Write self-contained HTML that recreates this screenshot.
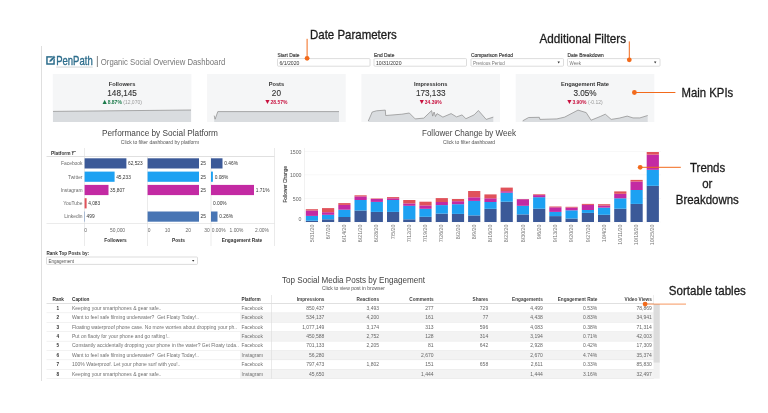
<!DOCTYPE html>
<html><head><meta charset="utf-8"><title>Organic Social Overview Dashboard</title>
<style>
html,body{margin:0;padding:0;background:#fff;width:768px;height:413px;overflow:hidden;font-family:"Liberation Sans",sans-serif}
#dash{filter:blur(0.55px)}
#ann{filter:blur(0.3px)}
</style></head><body>
<svg width="768" height="413" viewBox="0 0 768 413" font-family="'Liberation Sans', sans-serif" style="display:block">
<g id="dash">
<rect x="41" y="46" width="0.8" height="335" fill="#d8d8d8"/>
<g transform="translate(46,55)">
<rect x="0.95" y="1.9" width="7.1" height="7.1" fill="none" stroke="#2d6d8c" stroke-width="1.5"/>
<path d="M3.0 7.3 L3.5 5.2 L7.9 0.6 L9.5 2.2 L5.1 6.8 Z" fill="#2d6d8c" stroke="#fff" stroke-width="0.5"/>
<text x="10.2" y="9.5" font-size="12.4" fill="#2d6d8c" text-anchor="start" font-weight="normal" textLength="36.5" lengthAdjust="spacingAndGlyphs" stroke="#2d6d8c" stroke-width="0.35">PenPath</text>
<rect x="10.2" y="11.6" width="36.5" height="0.9" fill="#9aa3aa" opacity="0.5"/>
</g>
<rect x="96.9" y="56" width="0.8" height="11" fill="#666"/>
<text x="100.8" y="65.3" font-size="9" fill="#777" text-anchor="start" font-weight="normal" textLength="124.5" lengthAdjust="spacingAndGlyphs">Organic Social Overview Dashboard</text>
<text x="277.5" y="56.6" font-size="4.9" fill="#3a3a3a" text-anchor="start" font-weight="normal" stroke="#3a3a3a" stroke-width="0.16">Start Date</text>
<rect x="277.5" y="58.6" width="92.5" height="7.6" fill="#fff" stroke="#cfcfcf" stroke-width="0.7" rx="0.8"/>
<text x="279.5" y="64.5" font-size="5.1" fill="#333" text-anchor="start" font-weight="normal" >6/1/2020</text>
<text x="374" y="56.6" font-size="4.9" fill="#3a3a3a" text-anchor="start" font-weight="normal" stroke="#3a3a3a" stroke-width="0.16">End Date</text>
<rect x="374" y="58.6" width="92.5" height="7.6" fill="#fff" stroke="#cfcfcf" stroke-width="0.7" rx="0.8"/>
<text x="376" y="64.5" font-size="5.1" fill="#333" text-anchor="start" font-weight="normal" >10/31/2020</text>
<text x="471" y="56.6" font-size="4.9" fill="#3a3a3a" text-anchor="start" font-weight="normal" stroke="#3a3a3a" stroke-width="0.16">Comparison Period</text>
<rect x="471" y="58.6" width="92.5" height="7.6" fill="#fff" stroke="#cfcfcf" stroke-width="0.7" rx="0.8"/>
<text x="473" y="64.5" font-size="4.5" fill="#777" text-anchor="start" font-weight="normal" >Previous Period</text>
<path d="M557.5 61.6 l2.4 0 l-1.2 1.8 z" fill="#333"/>
<text x="567.5" y="56.6" font-size="4.9" fill="#3a3a3a" text-anchor="start" font-weight="normal" stroke="#3a3a3a" stroke-width="0.16">Date Breakdown</text>
<rect x="567.5" y="58.6" width="92.5" height="7.6" fill="#fff" stroke="#cfcfcf" stroke-width="0.7" rx="0.8"/>
<text x="569.5" y="64.5" font-size="4.5" fill="#777" text-anchor="start" font-weight="normal" >Week</text>
<path d="M654.0 61.6 l2.4 0 l-1.2 1.8 z" fill="#333"/>
<rect x="52.8" y="74" width="138.6" height="48" fill="#f5f6f7"/>
<rect x="207.1" y="74" width="138.6" height="48" fill="#f5f6f7"/>
<rect x="361.4" y="74" width="138.6" height="48" fill="#f5f6f7"/>
<rect x="515.7" y="74" width="138.6" height="48" fill="#f5f6f7"/>
<path d="M53.0 111.4 L191.0 110.0 L191.0 122 L53.0 122 Z" fill="#d9dcdf"/>
<path d="M53.0 111.4 L191.0 110.0" fill="none" stroke="#8a8a8a" stroke-width="0.7" stroke-linejoin="round"/>
<path d="M214.2 115.6 L215.1 119.2 L217.8 111.6 L339.0 111.6 L339.0 122 L214.2 122 Z" fill="#d9dcdf"/>
<path d="M214.2 115.6 L215.1 119.2 L217.8 111.6 L339.0 111.6" fill="none" stroke="#8a8a8a" stroke-width="0.7" stroke-linejoin="round"/>
<path d="M368.3 121.0 L372.2 112.0 L376.5 110.8 L385.3 110.1 L385.7 115.5 L401.9 114.2 L409.3 113.0 L415.2 118.9 L423.8 118.1 L431.6 110.6 L432.7 116.1 L434.1 112.0 L435.5 116.5 L437.0 113.6 L442.9 117.1 L451.1 113.6 L456.6 116.9 L462.0 114.9 L465.9 118.7 L474.1 114.9 L478.4 110.5 L486.2 119.4 L493.3 117.1 L493.3 122 L368.3 122 Z" fill="#d9dcdf"/>
<path d="M368.3 121.0 L372.2 112.0 L376.5 110.8 L385.3 110.1 L385.7 115.5 L401.9 114.2 L409.3 113.0 L415.2 118.9 L423.8 118.1 L431.6 110.6 L432.7 116.1 L434.1 112.0 L435.5 116.5 L437.0 113.6 L442.9 117.1 L451.1 113.6 L456.6 116.9 L462.0 114.9 L465.9 118.7 L474.1 114.9 L478.4 110.5 L486.2 119.4 L493.3 117.1" fill="none" stroke="#8a8a8a" stroke-width="0.7" stroke-linejoin="round"/>
<path d="M522.7 120.8 L528.6 117.5 L539.3 117.3 L539.9 119.4 L556.9 118.9 L564.7 117.1 L578.0 110.1 L586.2 112.6 L591.1 120.2 L600.2 116.5 L605.3 114.2 L611.2 119.4 L619.4 118.1 L627.2 116.1 L633.0 117.9 L639.9 117.9 L647.7 115.5 L647.7 122 L522.7 122 Z" fill="#d9dcdf"/>
<path d="M522.7 120.8 L528.6 117.5 L539.3 117.3 L539.9 119.4 L556.9 118.9 L564.7 117.1 L578.0 110.1 L586.2 112.6 L591.1 120.2 L600.2 116.5 L605.3 114.2 L611.2 119.4 L619.4 118.1 L627.2 116.1 L633.0 117.9 L639.9 117.9 L647.7 115.5" fill="none" stroke="#8a8a8a" stroke-width="0.7" stroke-linejoin="round"/>
<text x="122.1" y="85.6" font-size="5.7" fill="#333" text-anchor="middle" font-weight="bold" >Followers</text>
<text x="122.1" y="96" font-size="8.2" fill="#333" text-anchor="middle" font-weight="normal" stroke="#333" stroke-width="0.12">148,145</text>
<text x="276.4" y="85.6" font-size="5.7" fill="#333" text-anchor="middle" font-weight="bold" >Posts</text>
<text x="276.4" y="96" font-size="8.2" fill="#333" text-anchor="middle" font-weight="normal" stroke="#333" stroke-width="0.12">20</text>
<text x="430.7" y="85.6" font-size="5.7" fill="#333" text-anchor="middle" font-weight="bold" >Impressions</text>
<text x="430.7" y="96" font-size="8.2" fill="#333" text-anchor="middle" font-weight="normal" stroke="#333" stroke-width="0.12">173,133</text>
<text x="585.0" y="85.6" font-size="5.7" fill="#333" text-anchor="middle" font-weight="bold" >Engagement Rate</text>
<text x="585.0" y="96" font-size="8.2" fill="#333" text-anchor="middle" font-weight="normal" stroke="#333" stroke-width="0.12">3.05%</text>
<path d="M102.56 103.9 L106.76 103.9 L104.66 99.7 Z" fill="#1b7a4a"/>
<text x="107.66" y="103.9" font-size="5.0" fill="#1b7a4a" text-anchor="start" font-weight="normal" ><tspan fill="#1b7a4a" font-weight="bold">8.87%</tspan><tspan fill="#999"> (12,070)</tspan></text>
<path d="M265.37 99.9 L269.57 99.9 L267.47 104.1 Z" fill="#c8103e"/>
<text x="270.47" y="103.9" font-size="5.0" fill="#c8103e" text-anchor="start" font-weight="normal" ><tspan fill="#c8103e" font-weight="bold">28.57%</tspan></text>
<path d="M419.67 99.9 L423.87 99.9 L421.77 104.1 Z" fill="#c8103e"/>
<text x="424.77" y="103.9" font-size="5.0" fill="#c8103e" text-anchor="start" font-weight="normal" ><tspan fill="#c8103e" font-weight="bold">34.39%</tspan></text>
<path d="M567.30 99.9 L571.50 99.9 L569.40 104.1 Z" fill="#c8103e"/>
<text x="572.4" y="103.9" font-size="5.0" fill="#c8103e" text-anchor="start" font-weight="normal" ><tspan fill="#c8103e" font-weight="bold">3.90%</tspan><tspan fill="#999"> (-0.12)</tspan></text>
<text x="160" y="135.6" font-size="8.6" fill="#444" text-anchor="middle" font-weight="normal" textLength="116" lengthAdjust="spacingAndGlyphs">Performance by Social Platform</text>
<text x="160" y="143.7" font-size="5.0" fill="#555" text-anchor="middle" font-weight="normal" >Click to filter dashboard by platform</text>
<text x="51" y="154.6" font-size="4.8" fill="#333" text-anchor="start" font-weight="bold" >Platform</text>
<path d="M71.5 151.2 h4.4 v0.7 h-1.9 l-0.9 1.2 v1.8 h-0.8 v-1.8 l-0.8 -1.9 z" fill="#555"/>
<rect x="46.5" y="156.3" width="228" height="0.6" fill="#ccc"/>
<rect x="46.5" y="223.3" width="228" height="0.6" fill="#ddd"/>
<rect x="84.3" y="148" width="0.6" height="98" fill="#ddd"/>
<rect x="147.3" y="156.5" width="0.6" height="89.5" fill="#ddd"/>
<rect x="210.7" y="156.5" width="0.6" height="89.5" fill="#ddd"/>
<rect x="274" y="148" width="0.6" height="98" fill="#ddd"/>
<text x="82.5" y="165.20000000000002" font-size="4.9" fill="#6a6a6a" text-anchor="end" font-weight="normal" >Facebook</text>
<rect x="84.6" y="158.3" width="41.8" height="10.2" fill="#3b5998"/>
<text x="128.0" y="165.20000000000002" font-size="4.8" fill="#333" text-anchor="start" font-weight="normal" >62,523</text>
<rect x="147.6" y="158.3" width="51.4" height="10.2" fill="#3b5998"/>
<text x="200.6" y="165.20000000000002" font-size="4.8" fill="#333" text-anchor="start" font-weight="normal" >25</text>
<rect x="211" y="158.3" width="11.5" height="10.2" fill="#3b5998"/>
<text x="224.3" y="165.20000000000002" font-size="4.8" fill="#333" text-anchor="start" font-weight="normal" >0.46%</text>
<text x="82.5" y="178.50000000000003" font-size="4.9" fill="#6a6a6a" text-anchor="end" font-weight="normal" >Twitter</text>
<rect x="84.6" y="171.6" width="30.0" height="10.2" fill="#1da1f2"/>
<text x="116.19999999999999" y="178.50000000000003" font-size="4.8" fill="#333" text-anchor="start" font-weight="normal" >45,233</text>
<rect x="147.6" y="171.6" width="51.4" height="10.2" fill="#1da1f2"/>
<text x="200.6" y="178.50000000000003" font-size="4.8" fill="#333" text-anchor="start" font-weight="normal" >25</text>
<rect x="211" y="171.6" width="1.9" height="10.2" fill="#1da1f2"/>
<text x="214.70000000000002" y="178.50000000000003" font-size="4.8" fill="#333" text-anchor="start" font-weight="normal" >0.08%</text>
<text x="82.5" y="191.8" font-size="4.9" fill="#6a6a6a" text-anchor="end" font-weight="normal" >Instagram</text>
<rect x="84.6" y="184.9" width="23.9" height="10.2" fill="#c32aa3"/>
<text x="110.1" y="191.8" font-size="4.8" fill="#333" text-anchor="start" font-weight="normal" >35,807</text>
<rect x="147.6" y="184.9" width="51.4" height="10.2" fill="#c32aa3"/>
<text x="200.6" y="191.8" font-size="4.8" fill="#333" text-anchor="start" font-weight="normal" >25</text>
<rect x="211" y="184.9" width="43.0" height="10.2" fill="#c32aa3"/>
<text x="255.8" y="191.8" font-size="4.8" fill="#333" text-anchor="start" font-weight="normal" >1.71%</text>
<text x="82.5" y="205.10000000000002" font-size="4.9" fill="#6a6a6a" text-anchor="end" font-weight="normal" >YouTube</text>
<rect x="84.6" y="198.2" width="2.0" height="10.2" fill="#e0525a"/>
<text x="88.19999999999999" y="205.10000000000002" font-size="4.8" fill="#333" text-anchor="start" font-weight="normal" >4,083</text>
<text x="213.0" y="205.10000000000002" font-size="4.8" fill="#333" text-anchor="start" font-weight="normal" >0.00%</text>
<text x="82.5" y="218.4" font-size="4.9" fill="#6a6a6a" text-anchor="end" font-weight="normal" >Linkedin</text>
<rect x="84.6" y="211.5" width="0.4" height="10.2" fill="#4875b4"/>
<text x="86.6" y="218.4" font-size="4.8" fill="#333" text-anchor="start" font-weight="normal" >499</text>
<rect x="147.6" y="211.5" width="51.4" height="10.2" fill="#4875b4"/>
<text x="200.6" y="218.4" font-size="4.8" fill="#333" text-anchor="start" font-weight="normal" >25</text>
<rect x="211" y="211.5" width="6.5" height="10.2" fill="#4875b4"/>
<text x="219.3" y="218.4" font-size="4.8" fill="#333" text-anchor="start" font-weight="normal" >0.26%</text>
<text x="85.5" y="231.5" font-size="4.9" fill="#666" text-anchor="middle" font-weight="normal" >0</text>
<text x="117.6" y="231.5" font-size="4.9" fill="#666" text-anchor="middle" font-weight="normal" >50,000</text>
<text x="149" y="231.5" font-size="4.9" fill="#666" text-anchor="middle" font-weight="normal" >0</text>
<text x="167.6" y="231.5" font-size="4.9" fill="#666" text-anchor="middle" font-weight="normal" >10</text>
<text x="188.3" y="231.5" font-size="4.9" fill="#666" text-anchor="middle" font-weight="normal" >20</text>
<text x="207.1" y="231.5" font-size="4.9" fill="#666" text-anchor="middle" font-weight="normal" >30</text>
<text x="218.6" y="231.5" font-size="4.9" fill="#666" text-anchor="middle" font-weight="normal" >0.00%</text>
<text x="236.5" y="231.5" font-size="4.9" fill="#666" text-anchor="middle" font-weight="normal" >1.00%</text>
<text x="262" y="231.5" font-size="4.9" fill="#666" text-anchor="middle" font-weight="normal" >2.00%</text>
<text x="115.5" y="241.8" font-size="4.8" fill="#333" text-anchor="middle" font-weight="bold" >Followers</text>
<text x="178.5" y="241.8" font-size="4.8" fill="#333" text-anchor="middle" font-weight="bold" >Posts</text>
<text x="242" y="241.8" font-size="4.8" fill="#333" text-anchor="middle" font-weight="bold" >Engagement Rate</text>
<text x="46.5" y="254.6" font-size="4.6" fill="#333" text-anchor="start" font-weight="bold" >Rank Top Posts by:</text>
<rect x="46.5" y="257" width="151" height="7.4" fill="#fff" stroke="#cfcfcf" stroke-width="0.7" rx="0.8"/>
<text x="48.5" y="262.6" font-size="4.5" fill="#555" text-anchor="start" font-weight="normal" >Engagement</text>
<path d="M192 259.9 l2.4 0 l-1.2 1.8 z" fill="#333"/>
<text x="469" y="135.6" font-size="8.6" fill="#444" text-anchor="middle" font-weight="normal" textLength="94" lengthAdjust="spacingAndGlyphs">Follower Change by Week</text>
<text x="469" y="143.7" font-size="5.0" fill="#555" text-anchor="middle" font-weight="normal" >Click to filter dashboard</text>
<rect x="304" y="151.29999999999998" width="357" height="0.6" fill="#f3f3f3"/>
<text x="301.5" y="154.2" font-size="5.2" fill="#666" text-anchor="end" font-weight="normal" >1500</text>
<rect x="304" y="174.6" width="357" height="0.6" fill="#f3f3f3"/>
<text x="301.5" y="177" font-size="5.2" fill="#666" text-anchor="end" font-weight="normal" >1000</text>
<rect x="304" y="198.0" width="357" height="0.6" fill="#f3f3f3"/>
<text x="301.5" y="200.6" font-size="5.2" fill="#666" text-anchor="end" font-weight="normal" >500</text>
<rect x="304" y="221.7" width="357" height="0.6" fill="#f3f3f3"/>
<text x="301.5" y="221.2" font-size="5.2" fill="#666" text-anchor="end" font-weight="normal" >0</text>
<rect x="304.1" y="148" width="0.6" height="74.3" fill="#e8e8e8"/>
<text x="0" y="0" font-size="4.85" fill="#444" text-anchor="middle" font-weight="normal" transform="translate(286.6,184.3) rotate(-90)" stroke="#444" stroke-width="0.15">Follower Change</text>
<rect x="305.8" y="220.7" width="12.2" height="1.3" fill="#3b5998"/>
<rect x="305.8" y="215.9" width="12.2" height="4.8" fill="#1da1f2"/>
<rect x="305.8" y="210.5" width="12.2" height="5.4" fill="#c32aa3"/>
<rect x="305.8" y="209.2" width="12.2" height="1.3" fill="#e0525a"/>
<text x="0" y="0" font-size="5.3" fill="#777" text-anchor="end" font-weight="normal" transform="translate(313.5,224.5) rotate(-90)">5/31/20</text>
<rect x="322.0" y="219.3" width="12.2" height="2.7" fill="#3b5998"/>
<rect x="322.0" y="214.8" width="12.2" height="4.5" fill="#1da1f2"/>
<rect x="322.0" y="212.2" width="12.2" height="2.6" fill="#c32aa3"/>
<rect x="322.0" y="208.1" width="12.2" height="4.1" fill="#e0525a"/>
<text x="0" y="0" font-size="5.3" fill="#777" text-anchor="end" font-weight="normal" transform="translate(329.7,224.5) rotate(-90)">6/7/20</text>
<rect x="338.3" y="217.0" width="12.2" height="5.0" fill="#3b5998"/>
<rect x="338.3" y="209.7" width="12.2" height="7.3" fill="#1da1f2"/>
<rect x="338.3" y="204.9" width="12.2" height="4.8" fill="#c32aa3"/>
<rect x="338.3" y="203.1" width="12.2" height="1.8" fill="#e0525a"/>
<text x="0" y="0" font-size="5.3" fill="#777" text-anchor="end" font-weight="normal" transform="translate(346.0,224.5) rotate(-90)">6/14/20</text>
<rect x="354.5" y="210.5" width="12.2" height="11.5" fill="#3b5998"/>
<rect x="354.5" y="200.0" width="12.2" height="10.5" fill="#1da1f2"/>
<rect x="354.5" y="196.4" width="12.2" height="3.6" fill="#c32aa3"/>
<rect x="354.5" y="195.3" width="12.2" height="1.1" fill="#e0525a"/>
<text x="0" y="0" font-size="5.3" fill="#777" text-anchor="end" font-weight="normal" transform="translate(362.2,224.5) rotate(-90)">6/21/20</text>
<rect x="370.7" y="211.9" width="12.2" height="10.1" fill="#3b5998"/>
<rect x="370.7" y="201.9" width="12.2" height="10.0" fill="#1da1f2"/>
<rect x="370.7" y="199.0" width="12.2" height="2.9" fill="#c32aa3"/>
<rect x="370.7" y="198.5" width="12.2" height="0.5" fill="#e0525a"/>
<text x="0" y="0" font-size="5.3" fill="#777" text-anchor="end" font-weight="normal" transform="translate(378.4,224.5) rotate(-90)">6/28/20</text>
<rect x="387.0" y="211.9" width="12.2" height="10.1" fill="#3b5998"/>
<rect x="387.0" y="200.0" width="12.2" height="11.9" fill="#1da1f2"/>
<rect x="387.0" y="198.3" width="12.2" height="1.7" fill="#c32aa3"/>
<rect x="387.0" y="197.1" width="12.2" height="1.2" fill="#e0525a"/>
<text x="0" y="0" font-size="5.3" fill="#777" text-anchor="end" font-weight="normal" transform="translate(394.7,224.5) rotate(-90)">7/5/20</text>
<rect x="403.2" y="219.3" width="12.2" height="2.7" fill="#3b5998"/>
<rect x="403.2" y="205.8" width="12.2" height="13.5" fill="#1da1f2"/>
<rect x="403.2" y="203.4" width="12.2" height="2.4" fill="#c32aa3"/>
<rect x="403.2" y="200.0" width="12.2" height="3.4" fill="#e0525a"/>
<text x="0" y="0" font-size="5.3" fill="#777" text-anchor="end" font-weight="normal" transform="translate(410.9,224.5) rotate(-90)">7/12/20</text>
<rect x="419.4" y="216.8" width="12.2" height="5.2" fill="#3b5998"/>
<rect x="419.4" y="208.8" width="12.2" height="8.0" fill="#1da1f2"/>
<rect x="419.4" y="205.4" width="12.2" height="3.4" fill="#c32aa3"/>
<rect x="419.4" y="201.7" width="12.2" height="3.7" fill="#e0525a"/>
<text x="0" y="0" font-size="5.3" fill="#777" text-anchor="end" font-weight="normal" transform="translate(427.1,224.5) rotate(-90)">7/19/20</text>
<rect x="435.7" y="213.6" width="12.2" height="8.4" fill="#3b5998"/>
<rect x="435.7" y="205.1" width="12.2" height="8.5" fill="#1da1f2"/>
<rect x="435.7" y="202.0" width="12.2" height="3.1" fill="#c32aa3"/>
<rect x="435.7" y="198.1" width="12.2" height="3.9" fill="#e0525a"/>
<text x="0" y="0" font-size="5.3" fill="#777" text-anchor="end" font-weight="normal" transform="translate(443.4,224.5) rotate(-90)">7/26/20</text>
<rect x="451.9" y="213.9" width="12.2" height="8.1" fill="#3b5998"/>
<rect x="451.9" y="204.2" width="12.2" height="9.7" fill="#1da1f2"/>
<rect x="451.9" y="201.2" width="12.2" height="3.0" fill="#c32aa3"/>
<rect x="451.9" y="199.0" width="12.2" height="2.2" fill="#e0525a"/>
<text x="0" y="0" font-size="5.3" fill="#777" text-anchor="end" font-weight="normal" transform="translate(459.6,224.5) rotate(-90)">8/2/20</text>
<rect x="468.1" y="215.4" width="12.2" height="6.6" fill="#3b5998"/>
<rect x="468.1" y="200.9" width="12.2" height="14.5" fill="#1da1f2"/>
<rect x="468.1" y="197.3" width="12.2" height="3.6" fill="#c32aa3"/>
<rect x="468.1" y="191.0" width="12.2" height="6.3" fill="#e0525a"/>
<text x="0" y="0" font-size="5.3" fill="#777" text-anchor="end" font-weight="normal" transform="translate(475.8,224.5) rotate(-90)">8/9/20</text>
<rect x="484.4" y="208.8" width="12.2" height="13.2" fill="#3b5998"/>
<rect x="484.4" y="202.0" width="12.2" height="6.8" fill="#1da1f2"/>
<rect x="484.4" y="198.3" width="12.2" height="3.7" fill="#c32aa3"/>
<rect x="484.4" y="194.4" width="12.2" height="3.9" fill="#e0525a"/>
<text x="0" y="0" font-size="5.3" fill="#777" text-anchor="end" font-weight="normal" transform="translate(492.1,224.5) rotate(-90)">8/16/20</text>
<rect x="500.6" y="201.7" width="12.2" height="20.3" fill="#3b5998"/>
<rect x="500.6" y="192.7" width="12.2" height="9.0" fill="#1da1f2"/>
<rect x="500.6" y="191.2" width="12.2" height="1.5" fill="#c32aa3"/>
<rect x="500.6" y="187.6" width="12.2" height="3.6" fill="#e0525a"/>
<text x="0" y="0" font-size="5.3" fill="#777" text-anchor="end" font-weight="normal" transform="translate(508.3,224.5) rotate(-90)">8/23/20</text>
<rect x="516.8" y="214.4" width="12.2" height="7.6" fill="#3b5998"/>
<rect x="516.8" y="205.8" width="12.2" height="8.6" fill="#1da1f2"/>
<rect x="516.8" y="199.2" width="12.2" height="6.6" fill="#c32aa3"/>
<rect x="516.8" y="199.0" width="12.2" height="0.2" fill="#e0525a"/>
<text x="0" y="0" font-size="5.3" fill="#777" text-anchor="end" font-weight="normal" transform="translate(524.5,224.5) rotate(-90)">8/30/20</text>
<rect x="533.1" y="208.7" width="12.2" height="13.3" fill="#3b5998"/>
<rect x="533.1" y="197.2" width="12.2" height="11.5" fill="#1da1f2"/>
<rect x="533.1" y="195.1" width="12.2" height="2.1" fill="#c32aa3"/>
<rect x="533.1" y="194.3" width="12.2" height="0.8" fill="#e0525a"/>
<text x="0" y="0" font-size="5.3" fill="#777" text-anchor="end" font-weight="normal" transform="translate(540.8,224.5) rotate(-90)">9/6/20</text>
<rect x="549.3" y="216.1" width="12.2" height="5.9" fill="#3b5998"/>
<rect x="549.3" y="211.9" width="12.2" height="4.2" fill="#1da1f2"/>
<rect x="549.3" y="207.3" width="12.2" height="4.6" fill="#c32aa3"/>
<rect x="549.3" y="206.5" width="12.2" height="0.8" fill="#e0525a"/>
<text x="0" y="0" font-size="5.3" fill="#777" text-anchor="end" font-weight="normal" transform="translate(557.0,224.5) rotate(-90)">9/13/20</text>
<rect x="565.5" y="218.5" width="12.2" height="3.5" fill="#3b5998"/>
<rect x="565.5" y="210.3" width="12.2" height="8.2" fill="#1da1f2"/>
<rect x="565.5" y="207.6" width="12.2" height="2.7" fill="#c32aa3"/>
<rect x="565.5" y="206.8" width="12.2" height="0.8" fill="#e0525a"/>
<text x="0" y="0" font-size="5.3" fill="#777" text-anchor="end" font-weight="normal" transform="translate(573.2,224.5) rotate(-90)">9/20/20</text>
<rect x="581.8" y="212.9" width="12.2" height="9.1" fill="#3b5998"/>
<rect x="581.8" y="210.0" width="12.2" height="2.9" fill="#1da1f2"/>
<rect x="581.8" y="204.9" width="12.2" height="5.1" fill="#c32aa3"/>
<rect x="581.8" y="203.9" width="12.2" height="1.0" fill="#e0525a"/>
<text x="0" y="0" font-size="5.3" fill="#777" text-anchor="end" font-weight="normal" transform="translate(589.5,224.5) rotate(-90)">9/27/20</text>
<rect x="598.0" y="214.8" width="12.2" height="7.2" fill="#3b5998"/>
<rect x="598.0" y="207.6" width="12.2" height="7.2" fill="#1da1f2"/>
<rect x="598.0" y="205.5" width="12.2" height="2.1" fill="#c32aa3"/>
<rect x="598.0" y="204.2" width="12.2" height="1.3" fill="#e0525a"/>
<text x="0" y="0" font-size="5.3" fill="#777" text-anchor="end" font-weight="normal" transform="translate(605.7,224.5) rotate(-90)">10/4/20</text>
<rect x="614.2" y="208.7" width="12.2" height="13.3" fill="#3b5998"/>
<rect x="614.2" y="198.3" width="12.2" height="10.4" fill="#1da1f2"/>
<rect x="614.2" y="193.8" width="12.2" height="4.5" fill="#c32aa3"/>
<rect x="614.2" y="191.4" width="12.2" height="2.4" fill="#e0525a"/>
<text x="0" y="0" font-size="5.3" fill="#777" text-anchor="end" font-weight="normal" transform="translate(621.9,224.5) rotate(-90)">10/11/20</text>
<rect x="630.5" y="203.9" width="12.2" height="18.1" fill="#3b5998"/>
<rect x="630.5" y="190.0" width="12.2" height="13.9" fill="#1da1f2"/>
<rect x="630.5" y="181.5" width="12.2" height="8.5" fill="#c32aa3"/>
<rect x="630.5" y="179.9" width="12.2" height="1.6" fill="#e0525a"/>
<text x="0" y="0" font-size="5.3" fill="#777" text-anchor="end" font-weight="normal" transform="translate(638.2,224.5) rotate(-90)">10/18/20</text>
<rect x="646.7" y="185.8" width="12.2" height="36.2" fill="#3b5998"/>
<rect x="646.7" y="169.8" width="12.2" height="16.0" fill="#1da1f2"/>
<rect x="646.7" y="154.6" width="12.2" height="15.2" fill="#c32aa3"/>
<rect x="646.7" y="152.0" width="12.2" height="2.6" fill="#e0525a"/>
<text x="0" y="0" font-size="5.3" fill="#777" text-anchor="end" font-weight="normal" transform="translate(654.4,224.5) rotate(-90)">10/25/20</text>
<text x="353.5" y="282.6" font-size="8.6" fill="#444" text-anchor="middle" font-weight="normal" textLength="143" lengthAdjust="spacingAndGlyphs">Top Social Media Posts by Engagement</text>
<text x="353.5" y="290.2" font-size="5.0" fill="#555" text-anchor="middle" font-weight="normal" >Click to view post in browser</text>
<rect x="240" y="312.9" width="414" height="9.4" fill="#f3f3f3"/>
<rect x="240" y="331.7" width="414" height="9.4" fill="#f3f3f3"/>
<rect x="240" y="350.5" width="414" height="9.4" fill="#f3f3f3"/>
<rect x="240" y="369.3" width="414" height="9.4" fill="#f3f3f3"/>
<rect x="46.5" y="303.2" width="607.5" height="0.6" fill="#ccc"/>
<rect x="46.5" y="312.6" width="607.5" height="0.5" fill="#e4e4e4"/>
<rect x="46.5" y="322.1" width="607.5" height="0.5" fill="#e4e4e4"/>
<rect x="46.5" y="331.4" width="607.5" height="0.5" fill="#e4e4e4"/>
<rect x="46.5" y="340.9" width="607.5" height="0.5" fill="#e4e4e4"/>
<rect x="46.5" y="350.2" width="607.5" height="0.5" fill="#e4e4e4"/>
<rect x="46.5" y="359.6" width="607.5" height="0.5" fill="#e4e4e4"/>
<rect x="46.5" y="369.1" width="607.5" height="0.5" fill="#e4e4e4"/>
<rect x="46.5" y="378.4" width="607.5" height="0.5" fill="#e4e4e4"/>
<rect x="271" y="295" width="0.6" height="83.7" fill="#ddd"/>
<rect x="653.6" y="304" width="6.1" height="74.7" fill="#f1f1f1"/>
<rect x="653.6" y="304" width="6.1" height="58.6" fill="#dcdcdc"/>
<rect x="653.4" y="295" width="0.5" height="9" fill="#ddd"/>
<text x="52.5" y="300.8" font-size="4.7" fill="#333" text-anchor="start" font-weight="bold" >Rank</text>
<text x="72" y="300.8" font-size="4.7" fill="#333" text-anchor="start" font-weight="bold" >Caption</text>
<text x="241.6" y="300.8" font-size="4.7" fill="#333" text-anchor="start" font-weight="bold" >Platform</text>
<text x="324.4" y="300.8" font-size="4.7" fill="#444" text-anchor="end" font-weight="bold" >Impressions</text>
<text x="379" y="300.8" font-size="4.7" fill="#444" text-anchor="end" font-weight="bold" >Reactions</text>
<text x="433.6" y="300.8" font-size="4.7" fill="#444" text-anchor="end" font-weight="bold" >Comments</text>
<text x="488.2" y="300.8" font-size="4.7" fill="#444" text-anchor="end" font-weight="bold" >Shares</text>
<text x="542.8" y="300.8" font-size="4.7" fill="#444" text-anchor="end" font-weight="bold" >Engagements</text>
<text x="597.3" y="300.8" font-size="4.7" fill="#444" text-anchor="end" font-weight="bold" >Engagement Rate</text>
<text x="651.8" y="300.8" font-size="4.7" fill="#444" text-anchor="end" font-weight="bold" >Video Views</text>
<text x="57.7" y="309.8" font-size="4.7" fill="#333" text-anchor="middle" font-weight="bold" >1</text>
<text x="72" y="309.8" font-size="5.0" fill="#707070" text-anchor="start" font-weight="normal" >Keeping your smartphones &amp; gear safe..</text>
<text x="241.6" y="309.8" font-size="4.85" fill="#707070" text-anchor="start" font-weight="normal" >Facebook</text>
<text x="324.4" y="309.8" font-size="5.0" fill="#666" text-anchor="end" font-weight="normal" >850,437</text>
<text x="379" y="309.8" font-size="5.0" fill="#666" text-anchor="end" font-weight="normal" >3,493</text>
<text x="433.6" y="309.8" font-size="5.0" fill="#666" text-anchor="end" font-weight="normal" >277</text>
<text x="488.2" y="309.8" font-size="5.0" fill="#666" text-anchor="end" font-weight="normal" >729</text>
<text x="542.8" y="309.8" font-size="5.0" fill="#666" text-anchor="end" font-weight="normal" >4,499</text>
<text x="597.3" y="309.8" font-size="5.0" fill="#666" text-anchor="end" font-weight="normal" >0.53%</text>
<text x="651.8" y="309.8" font-size="5.0" fill="#666" text-anchor="end" font-weight="normal" >78,869</text>
<text x="57.7" y="319.2" font-size="4.7" fill="#333" text-anchor="middle" font-weight="bold" >2</text>
<text x="72" y="319.2" font-size="5.0" fill="#707070" text-anchor="start" font-weight="normal" >Want to feel safe filming underwater?&#160; Get Floaty Today!..</text>
<text x="241.6" y="319.2" font-size="4.85" fill="#707070" text-anchor="start" font-weight="normal" >Facebook</text>
<text x="324.4" y="319.2" font-size="5.0" fill="#666" text-anchor="end" font-weight="normal" >534,137</text>
<text x="379" y="319.2" font-size="5.0" fill="#666" text-anchor="end" font-weight="normal" >4,200</text>
<text x="433.6" y="319.2" font-size="5.0" fill="#666" text-anchor="end" font-weight="normal" >161</text>
<text x="488.2" y="319.2" font-size="5.0" fill="#666" text-anchor="end" font-weight="normal" >77</text>
<text x="542.8" y="319.2" font-size="5.0" fill="#666" text-anchor="end" font-weight="normal" >4,438</text>
<text x="597.3" y="319.2" font-size="5.0" fill="#666" text-anchor="end" font-weight="normal" >0.83%</text>
<text x="651.8" y="319.2" font-size="5.0" fill="#666" text-anchor="end" font-weight="normal" >34,941</text>
<text x="57.7" y="328.6" font-size="4.7" fill="#333" text-anchor="middle" font-weight="bold" >3</text>
<text x="72" y="328.6" font-size="5.0" fill="#707070" text-anchor="start" font-weight="normal" >Floating waterproof phone case. No more worries about dropping your ph..</text>
<text x="241.6" y="328.6" font-size="4.85" fill="#707070" text-anchor="start" font-weight="normal" >Facebook</text>
<text x="324.4" y="328.6" font-size="5.0" fill="#666" text-anchor="end" font-weight="normal" >1,077,149</text>
<text x="379" y="328.6" font-size="5.0" fill="#666" text-anchor="end" font-weight="normal" >3,174</text>
<text x="433.6" y="328.6" font-size="5.0" fill="#666" text-anchor="end" font-weight="normal" >313</text>
<text x="488.2" y="328.6" font-size="5.0" fill="#666" text-anchor="end" font-weight="normal" >596</text>
<text x="542.8" y="328.6" font-size="5.0" fill="#666" text-anchor="end" font-weight="normal" >4,083</text>
<text x="597.3" y="328.6" font-size="5.0" fill="#666" text-anchor="end" font-weight="normal" >0.38%</text>
<text x="651.8" y="328.6" font-size="5.0" fill="#666" text-anchor="end" font-weight="normal" >71,314</text>
<text x="57.7" y="338.0" font-size="4.7" fill="#333" text-anchor="middle" font-weight="bold" >4</text>
<text x="72" y="338.0" font-size="5.0" fill="#707070" text-anchor="start" font-weight="normal" >Put on flaoty for your phone and go rafting!..</text>
<text x="241.6" y="338.0" font-size="4.85" fill="#707070" text-anchor="start" font-weight="normal" >Facebook</text>
<text x="324.4" y="338.0" font-size="5.0" fill="#666" text-anchor="end" font-weight="normal" >450,588</text>
<text x="379" y="338.0" font-size="5.0" fill="#666" text-anchor="end" font-weight="normal" >2,752</text>
<text x="433.6" y="338.0" font-size="5.0" fill="#666" text-anchor="end" font-weight="normal" >128</text>
<text x="488.2" y="338.0" font-size="5.0" fill="#666" text-anchor="end" font-weight="normal" >314</text>
<text x="542.8" y="338.0" font-size="5.0" fill="#666" text-anchor="end" font-weight="normal" >3,194</text>
<text x="597.3" y="338.0" font-size="5.0" fill="#666" text-anchor="end" font-weight="normal" >0.71%</text>
<text x="651.8" y="338.0" font-size="5.0" fill="#666" text-anchor="end" font-weight="normal" >42,003</text>
<text x="57.7" y="347.40000000000003" font-size="4.7" fill="#333" text-anchor="middle" font-weight="bold" >5</text>
<text x="72" y="347.40000000000003" font-size="5.0" fill="#707070" text-anchor="start" font-weight="normal" >Constantly accidentally dropping your phone in the water? Get Floaty toda..</text>
<text x="241.6" y="347.40000000000003" font-size="4.85" fill="#707070" text-anchor="start" font-weight="normal" >Facebook</text>
<text x="324.4" y="347.40000000000003" font-size="5.0" fill="#666" text-anchor="end" font-weight="normal" >701,133</text>
<text x="379" y="347.40000000000003" font-size="5.0" fill="#666" text-anchor="end" font-weight="normal" >2,205</text>
<text x="433.6" y="347.40000000000003" font-size="5.0" fill="#666" text-anchor="end" font-weight="normal" >81</text>
<text x="488.2" y="347.40000000000003" font-size="5.0" fill="#666" text-anchor="end" font-weight="normal" >642</text>
<text x="542.8" y="347.40000000000003" font-size="5.0" fill="#666" text-anchor="end" font-weight="normal" >2,928</text>
<text x="597.3" y="347.40000000000003" font-size="5.0" fill="#666" text-anchor="end" font-weight="normal" >0.42%</text>
<text x="651.8" y="347.40000000000003" font-size="5.0" fill="#666" text-anchor="end" font-weight="normal" >17,309</text>
<text x="57.7" y="356.8" font-size="4.7" fill="#333" text-anchor="middle" font-weight="bold" >6</text>
<text x="72" y="356.8" font-size="5.0" fill="#707070" text-anchor="start" font-weight="normal" >Want to feel safe filming underwater?&#160; Get Floaty Today!..</text>
<text x="241.6" y="356.8" font-size="4.85" fill="#707070" text-anchor="start" font-weight="normal" >Instagram</text>
<text x="324.4" y="356.8" font-size="5.0" fill="#666" text-anchor="end" font-weight="normal" >56,280</text>
<text x="433.6" y="356.8" font-size="5.0" fill="#666" text-anchor="end" font-weight="normal" >2,670</text>
<text x="542.8" y="356.8" font-size="5.0" fill="#666" text-anchor="end" font-weight="normal" >2,670</text>
<text x="597.3" y="356.8" font-size="5.0" fill="#666" text-anchor="end" font-weight="normal" >4.74%</text>
<text x="651.8" y="356.8" font-size="5.0" fill="#666" text-anchor="end" font-weight="normal" >35,374</text>
<text x="57.7" y="366.2" font-size="4.7" fill="#333" text-anchor="middle" font-weight="bold" >7</text>
<text x="72" y="366.2" font-size="5.0" fill="#707070" text-anchor="start" font-weight="normal" >100% Waterproof. Let your phone surf with you!..</text>
<text x="241.6" y="366.2" font-size="4.85" fill="#707070" text-anchor="start" font-weight="normal" >Facebook</text>
<text x="324.4" y="366.2" font-size="5.0" fill="#666" text-anchor="end" font-weight="normal" >797,473</text>
<text x="379" y="366.2" font-size="5.0" fill="#666" text-anchor="end" font-weight="normal" >1,802</text>
<text x="433.6" y="366.2" font-size="5.0" fill="#666" text-anchor="end" font-weight="normal" >151</text>
<text x="488.2" y="366.2" font-size="5.0" fill="#666" text-anchor="end" font-weight="normal" >658</text>
<text x="542.8" y="366.2" font-size="5.0" fill="#666" text-anchor="end" font-weight="normal" >2,611</text>
<text x="597.3" y="366.2" font-size="5.0" fill="#666" text-anchor="end" font-weight="normal" >0.33%</text>
<text x="651.8" y="366.2" font-size="5.0" fill="#666" text-anchor="end" font-weight="normal" >85,830</text>
<text x="57.7" y="375.6" font-size="4.7" fill="#333" text-anchor="middle" font-weight="bold" >8</text>
<text x="72" y="375.6" font-size="5.0" fill="#707070" text-anchor="start" font-weight="normal" >Keeping your smartphones &amp; gear safe..</text>
<text x="241.6" y="375.6" font-size="4.85" fill="#707070" text-anchor="start" font-weight="normal" >Instagram</text>
<text x="324.4" y="375.6" font-size="5.0" fill="#666" text-anchor="end" font-weight="normal" >45,650</text>
<text x="433.6" y="375.6" font-size="5.0" fill="#666" text-anchor="end" font-weight="normal" >1,444</text>
<text x="542.8" y="375.6" font-size="5.0" fill="#666" text-anchor="end" font-weight="normal" >1,444</text>
<text x="597.3" y="375.6" font-size="5.0" fill="#666" text-anchor="end" font-weight="normal" >3.16%</text>
<text x="651.8" y="375.6" font-size="5.0" fill="#666" text-anchor="end" font-weight="normal" >32,497</text>
</g>
<g id="ann">
<text x="310" y="38.8" font-size="12.4" fill="#1c1c1c" text-anchor="start" font-weight="normal" textLength="86.7" lengthAdjust="spacingAndGlyphs" stroke="#1c1c1c" stroke-width="0.3">Date Parameters</text>
<text x="539.5" y="43.2" font-size="12.4" fill="#1c1c1c" text-anchor="start" font-weight="normal" textLength="86.5" lengthAdjust="spacingAndGlyphs" stroke="#1c1c1c" stroke-width="0.3">Additional Filters</text>
<text x="681.6" y="96.9" font-size="12.4" fill="#1c1c1c" text-anchor="start" font-weight="normal" textLength="51.6" lengthAdjust="spacingAndGlyphs" stroke="#1c1c1c" stroke-width="0.3">Main KPIs</text>
<text x="690" y="171.8" font-size="12.4" fill="#1c1c1c" text-anchor="start" font-weight="normal" textLength="35.2" lengthAdjust="spacingAndGlyphs" stroke="#1c1c1c" stroke-width="0.3">Trends</text>
<text x="702.2" y="187.8" font-size="12.4" fill="#1c1c1c" text-anchor="start" font-weight="normal" textLength="10.2" lengthAdjust="spacingAndGlyphs" stroke="#1c1c1c" stroke-width="0.3">or</text>
<text x="675.8" y="203.7" font-size="12.4" fill="#1c1c1c" text-anchor="start" font-weight="normal" textLength="63" lengthAdjust="spacingAndGlyphs" stroke="#1c1c1c" stroke-width="0.3">Breakdowns</text>
<text x="668.8" y="294.8" font-size="12.4" fill="#1c1c1c" text-anchor="start" font-weight="normal" textLength="77.1" lengthAdjust="spacingAndGlyphs" stroke="#1c1c1c" stroke-width="0.3">Sortable tables</text>
<line x1="307.1" y1="38.8" x2="307.1" y2="58.3" stroke="#f26a1b" stroke-width="1" stroke-opacity="1"/>
<circle cx="307.1" cy="58.3" r="2.4" fill="#f26a1b"/>
<line x1="629.3" y1="41.4" x2="629.3" y2="59.8" stroke="#f26a1b" stroke-width="1" stroke-opacity="1"/>
<circle cx="629.3" cy="59.8" r="2.4" fill="#f26a1b"/>
<line x1="634.4" y1="92.5" x2="675.4" y2="92.5" stroke="#f26a1b" stroke-width="1" stroke-opacity="1"/>
<circle cx="634.4" cy="92.5" r="2.4" fill="#f26a1b"/>
<line x1="640.2" y1="167.3" x2="680.8" y2="167.3" stroke="#f26a1b" stroke-width="1" stroke-opacity="1"/>
<circle cx="640.2" cy="167.3" r="2.4" fill="#f26a1b"/>
<line x1="645.1" y1="304.1" x2="686" y2="304.1" stroke="#f26a1b" stroke-width="1" stroke-opacity="0.7"/>
<circle cx="645.1" cy="304.1" r="2.4" fill="#f26a1b"/>
</g>
</svg>
</body></html>
